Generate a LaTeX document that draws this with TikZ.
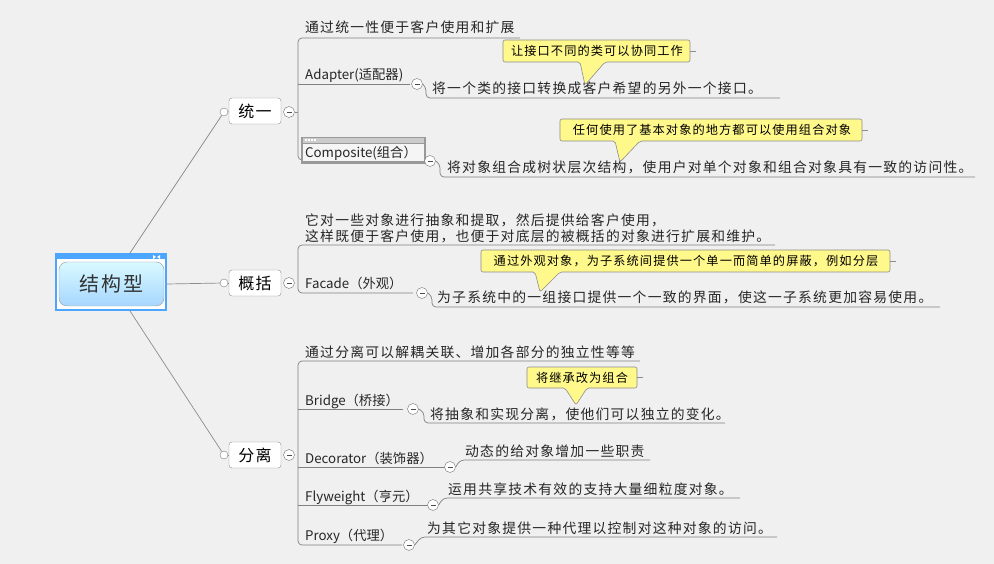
\documentclass[tikz,border=0pt]{standalone}
\usepackage{fontspec}
\setmainfont{Noto Sans CJK SC}
\newfontfamily\spaced[LetterSpace=9]{Noto Sans CJK SC}
\begin{document}
\begin{tikzpicture}[x=1pt,y=-1pt,
  lnk/.style={draw=black!45,line width=0.7pt},
  ul/.style={draw=black!50,line width=0.7pt,rounded corners=4pt},
  txt/.style={anchor=base west,inner sep=0pt,font=\spaced\fontsize{13.8}{16}\selectfont,text=black!85},
  lab/.style={anchor=base west,inner sep=0pt,font=\fontsize{13.3}{16}\selectfont,text=black!85},
  topic/.style={draw=black!45,fill=white,rounded corners=3pt,minimum width=52pt,minimum height=26pt,font=\spaced\fontsize{16}{18}\selectfont,inner sep=0pt},
  knob/.style={circle,draw=black!50,fill=white,minimum size=8pt,inner sep=0pt},
  minus/.style={circle,draw=black!55,fill=white,minimum size=11pt,inner sep=0pt,path picture={\draw[black!70,line width=0.8pt](path picture bounding box.center)+(-2.5pt,0)--+(2.5pt,0);}},
  callout/.style={draw=black!45,fill=yellow!45!white,rounded corners=2pt,line width=0.6pt},
  ctxt/.style={font=\spaced\fontsize{12.2}{14}\selectfont,inner sep=0pt}]
\fill[white!94!black] (0,0) rectangle (994,564);
% root
\fill[blue!50!cyan!70] (55,253) rectangle (167,311);
\fill[white] (57,259) rectangle (165,309);
\shade[top color=blue!15!cyan!15,bottom color=blue!45!cyan!35,draw=black!40,rounded corners=8pt] (59,262) rectangle (164,306);
\node[font=\spaced\fontsize{20}{22}\selectfont,text=black!80] (root) at (111.5,284) {结构型};
\fill[white] (153,255) -- (156,257) -- (153,259) -- cycle (160,255)--(157,257)--(160,259)--cycle;
% level 1
\node[topic] (t1) at (255,111) {统一};
\node[topic] (t2) at (255,283) {概括};
\node[topic] (t3) at (255,455) {分离};
\node[knob] (k1) at (224,112) {};
\node[knob] (k2) at (224,283) {};
\node[knob] (k3) at (224,455) {};
\coordinate (r1) at (130,253);
\coordinate (r2) at (167,284);
\coordinate (r3) at (130,311);
\draw[lnk] (r1) -- (k1);
\draw[lnk] (r2) -- (k2);
\draw[lnk] (r3) -- (k3);
\draw[lnk] (k1) -- (t1); \draw[lnk] (k2) -- (t2); \draw[lnk] (k3) -- (t3);
\node[minus] (m1) at (289,112) {};
\node[minus] (m2) at (289,283) {};
\node[minus] (m3) at (289,455) {};
% ---- 统一
\draw[ul] (520,38) -- (298,38) -- (298,160) -- (301,160);
\draw[lnk] (m1) -- (298,112);
\node[txt] (a1) at (305,33) {通过统一性便于客户使用和扩展};
\draw[ul] (298,84) -- (410,84);
\node[lab] (a2) at (305,80) {Adapter(适配器)};
\node[minus] (ma2) at (417,84) {};
\draw[ul] (ma2.east) -- (426,87) -- (426,98) -- (780,98);
\node[txt] (a2c) at (432,94) {将一个类的接口转换成客户希望的另外一个接口。};
% composite box
\fill[black!40] (301,137) rectangle (426,164);
\fill[white!80!black] (303,138) rectangle (424,143);
\fill[white!96!black] (303,144) rectangle (424,161);
\foreach \i in {305,308,311,314} \fill[white] (\i,139.5) rectangle ++(1.5,1.5);
\node[lab] (a3) at (305,158) {Composite(组合）};
\node[minus] (ma3) at (430,161) {};
\draw[ul] (ma3.east) -- (440,164) -- (440,177) -- (975,177);
\node[txt] (a3c) at (447,173) {将对象组合成树状层次结构，使用户对单个对象和组合对象具有一致的访问性。};
% callouts 统一
\draw[callout] (503,40) -- (690,40) -- (690,62) -- (605,62) -- (585,85) -- (580,62) -- (503,62) -- cycle;
\node[ctxt] (c1) at (597,51) {让接口不同的类可以协同工作};
\draw[lnk] (690,51) -- (696,51);
\draw[callout] (560,119) -- (862,119) -- (862,141) -- (640,141) -- (620,162) -- (615,141) -- (560,141) -- cycle;
\node[ctxt] (c2) at (712,130) {任何使用了基本对象的地方都可以使用组合对象};
\draw[lnk] (862,130) -- (868,130);
% ---- 概括
\draw[ul] (775,245) -- (298,245) -- (298,293) -- (413,293);
\node[txt] (b1) at (305,226) {它对一些对象进行抽象和提取，然后提供给客户使用，};
\node[txt] (b1b) at (305,242) {这样既便于客户使用，也便于对底层的被概括的对象进行扩展和维护。};
\node[lab] (b2) at (305,289) {Facade（外观）};
\node[minus] (mb2) at (422,293) {};
\draw[ul] (mb2.east) -- (432,296) -- (432,307) -- (940,307);
\node[txt] (b2c) at (437,303) {为子系统中的一组接口提供一个一致的界面，使这一子系统更加容易使用。};
\draw[callout] (481,250) -- (890,250) -- (890,272) -- (560,272) -- (540,292) -- (535,272) -- (481,272) -- cycle;
\node[ctxt] (c3) at (686,261) {通过外观对象，为子系统间提供一个单一而简单的屏蔽，例如分层};
\draw[lnk] (890,261) -- (896,261);
% ---- 分离
\draw[ul] (640,361) -- (298,361) -- (298,545) -- (402,545);
\draw[ul] (298,409) -- (403,409);
\draw[ul] (298,467) -- (445,467);
\draw[ul] (298,505) -- (428,505);
\node[txt] (d1) at (305,357) {通过分离可以解耦关联、增加各部分的独立性等等};
\node[lab] (d2) at (305,405) {Bridge（桥接）};
\node[minus] (md2) at (413,409) {};
\draw[ul] (md2.east) -- (424,412) -- (424,423) -- (725,423);
\node[txt] (d2c) at (430,419) {将抽象和实现分离，使他们可以独立的变化。};
\draw[callout] (527,367) -- (637,367) -- (637,388) -- (587,388) -- (576,405) -- (565,388) -- (527,388) -- cycle;
\node[ctxt] (c4) at (582,377.5) {将继承改为组合};
\draw[lnk] (637,377) -- (643,377);
\node[lab] (d3) at (305,463) {Decorator（装饰器）};
\node[minus] (md3) at (450,467) {};
\draw[ul] (md3.east) -- (460,460) -- (650,460);
\node[txt] (d3c) at (465,456) {动态的给对象增加一些职责};
\node[lab] (d4) at (305,501) {Flyweight（亨元）};
\node[minus] (md4) at (433,505) {};
\draw[ul] (md4.east) -- (443,498) -- (740,498);
\node[txt] (d4c) at (448,494) {运用共享技术有效的支持大量细粒度对象。};
\node[lab] (d5) at (305,540) {Proxy（代理）};
\node[minus] (md5) at (409,545) {};
\draw[ul] (md5.east) -- (421,537) -- (777,537);
\node[txt] (d5c) at (427,533) {为其它对象提供一种代理以控制对这种对象的访问。};
\end{tikzpicture}
\end{document}
